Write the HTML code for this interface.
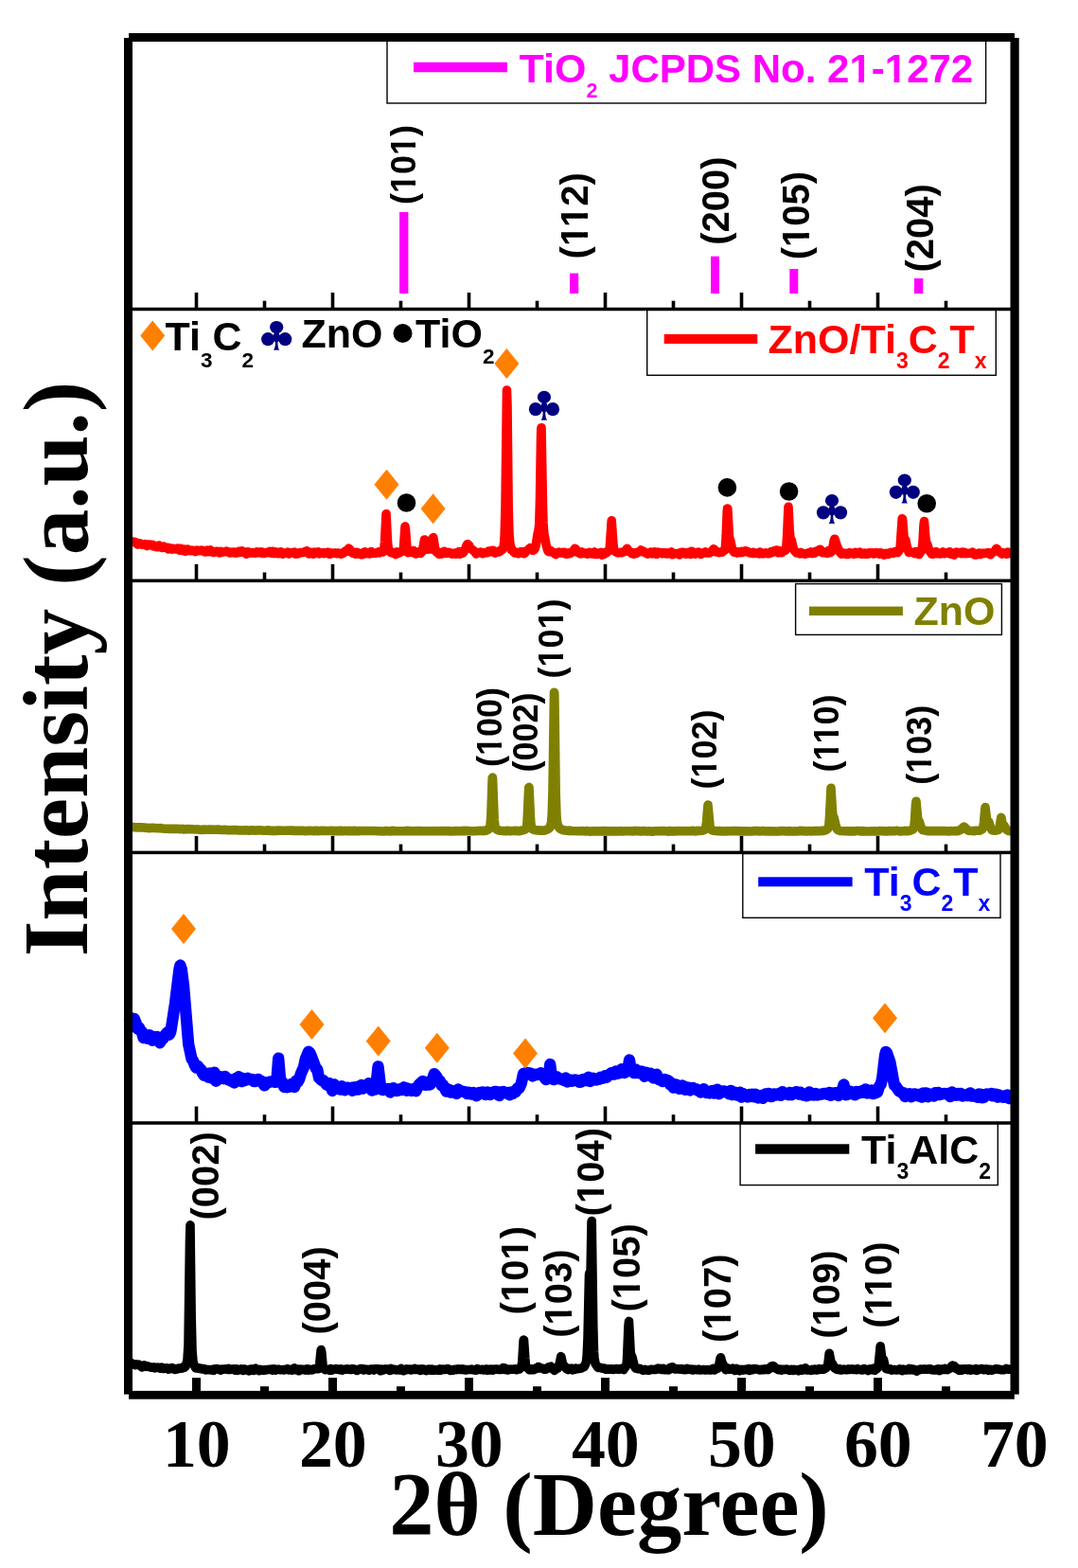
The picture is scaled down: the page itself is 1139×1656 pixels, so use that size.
<!DOCTYPE html>
<html><head><meta charset="utf-8"><title>XRD patterns</title>
<style>html,body{margin:0;padding:0;background:#fff;overflow:hidden;}svg{display:block;}</style>
</head><body>
<svg width="1139" height="1656" viewBox="0 0 1139 1656">
<rect width="1139" height="1656" fill="#fff"/>
<rect x="422.1" y="224.0" width="9.3" height="86.0" fill="#FF00FF"/>
<rect x="602.0" y="288.6" width="9.2" height="21.4" fill="#FF00FF"/>
<rect x="751.0" y="270.7" width="9.0" height="39.3" fill="#FF00FF"/>
<rect x="834.3" y="284.0" width="9.0" height="26.0" fill="#FF00FF"/>
<rect x="966.0" y="294.0" width="9.3" height="16.0" fill="#FF00FF"/>
<text x="439.10" y="174.00" font-family="'Liberation Sans', Arial, sans-serif" font-size="36.00" font-weight="bold" fill="#000" text-anchor="middle" transform="rotate(-90 439.10 174.00)" class="one">(101)</text>
<text x="620.90" y="227.80" font-family="'Liberation Sans', Arial, sans-serif" font-size="40.00" font-weight="bold" fill="#000" text-anchor="middle" transform="rotate(-90 620.90 227.80)" class="one">(112)</text>
<text x="770.20" y="212.00" font-family="'Liberation Sans', Arial, sans-serif" font-size="40.00" font-weight="bold" fill="#000" text-anchor="middle" transform="rotate(-90 770.20 212.00)">(200)</text>
<text x="854.70" y="227.50" font-family="'Liberation Sans', Arial, sans-serif" font-size="40.00" font-weight="bold" fill="#000" text-anchor="middle" transform="rotate(-90 854.70 227.50)" class="one">(105)</text>
<text x="986.30" y="240.90" font-family="'Liberation Sans', Arial, sans-serif" font-size="40.00" font-weight="bold" fill="#000" text-anchor="middle" transform="rotate(-90 986.30 240.90)">(204)</text>
<path d="M137.0 571.9L138.2 572.4L140.5 572.1L141.8 572.7L143.0 572.6L145.5 574.9L146.8 573.8L147.8 573.9L149.0 575.0L151.2 575.2L152.5 574.7L155.0 576.4L156.2 575.0L157.5 575.8L158.8 575.0L159.8 575.6L161.0 575.4L162.2 576.8L163.5 576.3L164.5 577.5L165.8 577.7L167.0 577.6L168.2 576.0L169.5 577.7L170.5 578.1L171.8 578.5L173.0 577.3L174.2 578.3L175.5 578.1L176.5 578.3L177.8 579.9L179.0 578.6L181.5 580.1L182.5 579.2L186.0 580.0L187.5 579.2L189.8 581.3L191.0 579.2L192.2 581.2L194.5 580.2L195.8 582.3L197.0 581.5L198.2 580.1L199.5 581.2L200.5 581.6L201.8 581.1L203.0 581.8L204.2 581.4L206.5 582.6L207.8 581.1L209.0 581.8L210.2 581.4L211.2 581.8L212.8 581.0L215.0 581.8L216.2 582.8L217.2 583.0L218.8 581.2L219.8 581.6L221.0 582.8L222.2 580.8L223.2 581.9L224.5 582.4L225.8 583.5L228.2 582.3L229.5 582.4L230.5 582.5L231.8 583.9L233.0 582.4L235.5 583.1L237.8 582.8L239.0 582.1L240.2 583.0L241.5 582.8L242.8 584.0L245.0 583.1L246.2 583.7L247.5 583.0L248.8 584.0L249.8 583.3L251.0 583.8L252.2 582.4L253.5 583.5L254.5 582.2L255.8 581.8L257.0 583.2L258.2 582.8L259.5 583.8L260.5 585.2L262.0 582.9L265.2 584.0L267.8 583.5L269.0 584.2L270.2 584.1L271.5 583.0L272.5 583.6L273.8 583.8L275.0 582.9L276.2 584.0L277.5 583.2L278.8 584.5L282.2 583.4L283.5 583.7L284.8 582.4L287.0 584.2L288.2 582.3L289.5 584.5L290.5 582.7L291.8 584.5L293.0 583.3L294.2 584.6L295.5 584.0L296.5 582.9L297.8 584.9L299.0 585.2L300.2 584.0L302.5 583.9L303.8 583.3L305.0 585.0L306.2 583.7L307.5 584.0L308.5 583.5L309.8 583.6L311.0 583.1L312.2 585.1L313.5 584.1L314.8 584.8L317.0 583.5L318.2 583.7L320.5 583.5L321.8 582.7L324.2 581.9L325.5 583.1L326.5 585.0L327.8 583.6L329.0 583.3L331.2 585.2L332.5 583.2L334.0 584.0L336.2 582.9L337.5 584.8L338.5 584.3L339.8 584.3L341.0 583.7L342.2 584.6L343.5 583.9L344.5 584.1L345.8 583.4L347.0 583.3L348.2 585.3L349.5 583.9L350.8 584.5L354.2 583.9L355.5 584.7L356.8 584.0L359.0 584.2L360.2 585.1L362.8 584.2L365.0 581.9L366.2 582.4L368.5 579.2L369.0 579.5L372.0 583.7L373.2 584.4L374.5 583.7L375.8 585.3L377.0 583.2L378.2 584.9L379.5 584.7L381.8 585.8L383.0 585.5L384.2 583.4L385.2 583.0L386.5 584.8L387.8 583.6L390.2 584.9L391.5 582.9L392.5 582.6L394.0 584.4L396.2 584.0L397.5 584.1L399.8 582.9L401.0 583.8L403.2 582.2L404.5 582.9L404.8 582.7L405.8 579.7L406.5 572.6L408.0 542.8L409.5 571.9L410.2 579.0L411.0 581.2L413.0 583.6L414.2 583.2L415.5 584.2L416.5 584.2L417.8 585.6L419.0 582.9L420.2 584.7L421.5 583.9L422.5 583.8L423.8 582.4L425.2 582.3L425.8 581.7L426.5 577.5L428.0 556.1L428.5 559.1L429.8 577.3L430.5 582.0L431.2 583.6L432.2 583.4L433.5 582.1L434.8 583.3L437.0 581.5L439.2 584.9L439.5 585.0L442.0 583.0L443.0 583.1L444.2 584.5L445.8 582.8L446.5 581.1L448.5 570.1L448.8 570.1L449.0 570.9L450.0 577.1L450.8 579.7L451.5 580.2L453.8 578.6L455.0 580.0L455.8 577.6L457.2 568.5L457.8 567.6L460.0 581.4L461.0 583.0L462.2 582.6L463.5 585.2L464.5 585.2L465.8 583.8L467.0 584.8L468.0 584.5L469.5 582.3L470.8 584.4L473.0 584.3L474.2 583.4L475.5 584.0L476.5 584.1L477.8 585.1L480.2 584.2L481.5 585.3L482.5 583.8L483.8 583.8L485.0 582.6L486.2 585.2L488.8 584.1L489.8 583.2L491.5 580.1L493.2 575.7L493.8 574.9L494.2 574.7L495.8 576.4L497.0 579.0L501.8 582.6L503.0 584.9L504.2 584.2L507.8 583.1L510.2 584.7L511.5 583.7L515.0 583.8L516.2 582.1L517.5 582.6L518.8 581.7L519.8 582.6L521.0 581.4L523.2 583.9L524.8 582.7L525.8 582.5L527.0 582.9L528.2 582.3L529.5 580.8L531.0 580.3L531.8 579.1L532.8 572.0L533.2 564.1L534.0 534.9L535.5 412.0L536.0 428.4L537.2 537.6L538.0 564.4L538.8 573.4L540.0 579.7L540.2 580.5L541.5 580.7L542.5 582.8L543.8 583.9L545.0 583.2L546.2 583.7L547.5 584.8L548.8 583.3L551.0 582.5L553.5 584.7L554.5 584.2L555.8 582.4L560.2 578.7L560.8 578.9L562.5 581.0L563.0 581.3L563.5 581.2L564.5 580.4L565.2 579.4L566.2 576.0L568.0 564.4L569.2 558.8L569.8 553.2L570.5 527.3L571.5 462.6L571.8 452.9L572.0 451.8L573.5 535.5L574.0 552.0L574.8 563.4L577.0 574.9L578.8 581.7L580.0 582.7L581.0 582.6L582.2 581.8L583.5 583.1L584.8 583.2L587.0 585.6L588.2 584.1L590.5 583.1L592.0 584.0L593.0 584.0L594.2 583.3L595.5 584.2L596.5 583.3L598.0 585.1L600.2 585.0L601.5 583.8L602.8 584.3L604.8 582.9L607.5 579.3L608.5 580.1L609.8 583.5L611.0 583.6L613.2 584.9L614.8 583.0L617.0 584.4L618.2 584.6L619.5 584.1L620.8 585.1L623.0 583.4L624.2 583.7L625.5 585.0L626.5 584.7L627.8 582.9L629.0 585.4L630.2 584.8L631.5 585.3L632.5 584.1L633.8 584.0L635.0 583.4L636.2 586.2L637.5 584.1L638.5 585.2L639.8 583.5L641.0 583.8L642.2 581.9L643.0 582.0L643.5 581.6L644.2 579.3L646.2 549.8L647.8 573.1L648.5 579.7L649.0 581.1L650.2 582.6L653.0 583.9L655.2 583.4L656.8 583.7L659.0 582.5L660.2 582.5L661.2 581.8L662.5 579.3L664.2 582.2L666.2 583.2L667.5 584.7L668.5 583.8L668.8 584.0L669.8 585.3L671.0 583.6L672.2 584.4L674.5 582.9L675.8 582.9L677.2 581.0L680.5 582.5L681.8 583.8L684.2 585.0L685.2 583.8L685.5 583.7L686.5 584.3L687.8 583.0L689.0 584.9L690.2 583.5L691.2 583.0L693.8 585.3L695.0 583.2L697.2 583.8L698.5 583.6L699.8 584.7L701.0 583.8L702.0 583.9L703.5 584.8L704.5 583.9L705.8 584.8L707.0 583.7L709.2 583.0L710.5 585.7L712.0 584.3L713.0 584.6L716.5 584.5L717.8 585.9L719.0 583.6L720.2 583.2L721.5 583.6L722.5 583.4L723.8 585.0L725.0 585.1L726.2 583.7L727.5 583.4L729.8 585.5L731.0 582.2L732.2 584.8L733.5 583.7L734.5 585.1L735.8 583.6L737.0 584.2L738.2 583.2L739.5 583.8L740.8 585.4L745.2 582.9L746.8 584.0L749.5 584.0L750.2 583.8L751.5 582.4L752.5 581.9L754.0 579.7L754.8 580.2L756.2 582.9L758.5 583.0L759.8 583.6L762.2 582.9L763.2 583.1L764.5 581.7L765.8 581.1L766.5 577.0L767.2 565.9L768.2 540.7L768.5 537.1L768.8 537.0L770.5 567.3L771.8 571.2L773.5 579.2L774.5 581.7L775.5 583.2L776.5 583.5L777.8 582.7L779.0 583.9L780.2 582.9L782.5 583.7L783.8 582.2L785.0 583.3L787.5 581.7L788.5 582.0L789.8 582.9L791.0 583.1L792.2 583.9L793.5 583.8L794.5 584.3L795.8 583.4L797.0 584.5L800.5 584.0L801.8 584.7L803.0 583.0L804.2 584.7L807.8 584.6L809.0 583.8L811.5 584.7L813.8 584.2L815.0 582.6L816.2 583.5L817.2 582.9L819.0 581.2L821.0 581.0L822.2 583.9L823.5 583.3L824.5 581.8L825.8 583.8L827.0 582.2L830.0 581.2L830.8 578.6L831.5 568.4L833.0 535.3L834.2 559.8L835.0 568.5L835.2 569.4L836.0 570.0L836.5 571.1L838.0 578.4L839.5 581.6L841.5 583.9L843.8 584.0L845.0 584.8L846.2 583.5L848.5 584.7L849.8 584.7L851.0 585.1L853.2 584.1L854.5 584.5L857.0 582.9L858.2 584.6L859.5 584.1L860.5 584.2L861.8 582.4L863.0 582.8L866.5 580.2L869.0 583.8L870.2 583.8L871.5 583.4L873.8 584.5L875.0 581.6L876.2 583.6L877.5 583.6L878.8 582.3L879.5 580.6L881.2 570.8L881.8 569.3L882.0 569.3L884.5 577.2L887.2 582.8L889.2 585.3L890.8 583.9L893.0 584.4L894.2 585.3L895.5 584.4L896.5 585.4L897.8 583.6L899.0 584.2L900.2 584.2L901.5 585.0L902.5 585.2L903.8 583.3L905.0 583.7L906.2 584.6L908.5 583.2L910.0 585.2L912.2 584.8L913.5 584.1L914.5 585.1L915.8 584.3L917.0 585.3L918.2 583.7L919.5 583.8L920.5 584.5L921.8 583.9L923.0 585.0L924.2 584.6L925.5 583.7L926.5 584.4L927.8 584.1L929.0 585.1L930.2 583.9L931.5 584.1L932.8 585.4L934.0 586.1L935.0 585.9L936.2 584.4L937.2 584.5L938.8 585.3L939.8 584.2L941.0 583.4L942.2 584.3L943.5 584.4L945.8 582.6L947.0 582.5L948.2 583.8L950.5 580.8L951.2 577.3L953.2 547.7L953.5 547.9L953.8 550.3L955.2 569.2L955.5 569.9L956.5 569.6L956.8 570.1L958.2 576.9L960.2 583.4L962.8 583.1L965.0 583.7L966.2 584.4L967.5 582.6L969.8 583.4L971.0 585.5L973.8 581.3L974.8 575.7L976.0 554.8L976.5 550.5L977.8 567.2L978.5 572.5L980.0 575.3L981.8 581.5L982.2 582.2L983.0 582.5L984.2 585.1L985.5 585.2L986.8 584.5L987.8 584.7L989.0 582.6L990.2 584.7L991.5 584.2L993.8 584.9L996.2 583.1L997.5 584.6L998.8 583.8L999.8 584.1L1002.2 584.1L1003.2 582.8L1003.5 582.8L1004.5 585.2L1004.8 585.3L1005.8 584.7L1008.2 586.0L1010.5 583.1L1011.8 583.7L1013.0 583.5L1015.2 584.5L1016.5 583.0L1017.8 584.6L1019.0 583.2L1020.2 584.7L1026.2 583.9L1027.5 583.2L1029.8 585.9L1031.0 586.0L1033.2 585.1L1034.5 584.0L1035.8 585.5L1037.0 584.4L1039.5 584.2L1040.5 584.4L1041.8 584.0L1043.0 584.3L1044.2 583.5L1045.5 584.1L1046.5 585.8L1047.8 583.9L1050.2 582.9L1051.2 581.9L1052.8 579.3L1053.8 580.2L1055.0 582.4L1057.2 583.7L1058.5 585.1L1059.8 583.7L1061.0 584.3L1062.2 584.0L1063.5 585.3L1064.8 583.0L1065.8 583.8L1067.0 584.0L1068.0 584.8" fill="none" stroke="#FF0000" stroke-width="9.6" stroke-linejoin="round" stroke-linecap="round"/>
<path d="M408.5 495.7L421.5 511.7L408.5 527.7L395.5 511.7Z" fill="#FF8000"/>
<circle cx="429.5" cy="531.0" r="9.8" fill="#000"/>
<path d="M457.6 521.3L470.6 537.3L457.6 553.3L444.6 537.3Z" fill="#FF8000"/>
<path d="M535.4 368.0L548.4 384.0L535.4 400.0L522.4 384.0Z" fill="#FF8000"/>
<g fill="#000080">
<ellipse cx="574.95" cy="419.45" rx="7.10" ry="6.60"/>
<ellipse cx="565.85" cy="432.15" rx="7.00" ry="7.15"/>
<ellipse cx="584.05" cy="432.15" rx="7.00" ry="7.15"/>
<path d="M573.15 424.35 L576.75 424.35 L578.55 428.55 L578.55 433.35 L576.25 435.15 L573.65 435.15 L571.35 433.35 L571.35 428.55 Z"/>
<path d="M573.65 432.35 C573.75 438.35 573.45 441.85 571.55 443.80 L578.25 443.80 C576.45 441.85 576.15 438.35 576.25 432.35 Z"/>
</g>
<circle cx="768.4" cy="514.9" r="9.8" fill="#000"/>
<circle cx="833.6" cy="519.0" r="9.8" fill="#000"/>
<g fill="#000080">
<ellipse cx="879.00" cy="528.70" rx="7.10" ry="6.60"/>
<ellipse cx="869.90" cy="541.40" rx="7.00" ry="7.15"/>
<ellipse cx="888.10" cy="541.40" rx="7.00" ry="7.15"/>
<path d="M877.20 533.60 L880.80 533.60 L882.60 537.80 L882.60 542.60 L880.30 544.40 L877.70 544.40 L875.40 542.60 L875.40 537.80 Z"/>
<path d="M877.70 541.60 C877.80 547.60 877.50 551.10 875.60 553.05 L882.30 553.05 C880.50 551.10 880.20 547.60 880.30 541.60 Z"/>
</g>
<g fill="#000080">
<ellipse cx="955.80" cy="507.10" rx="7.10" ry="6.60"/>
<ellipse cx="946.70" cy="519.80" rx="7.00" ry="7.15"/>
<ellipse cx="964.90" cy="519.80" rx="7.00" ry="7.15"/>
<path d="M954.00 512.00 L957.60 512.00 L959.40 516.20 L959.40 521.00 L957.10 522.80 L954.50 522.80 L952.20 521.00 L952.20 516.20 Z"/>
<path d="M954.50 520.00 C954.60 526.00 954.30 529.50 952.40 531.45 L959.10 531.45 C957.30 529.50 957.00 526.00 957.10 520.00 Z"/>
</g>
<circle cx="979.2" cy="531.7" r="9.8" fill="#000"/>
<path d="M161.2 338.5L174.2 354.5L161.2 370.5L148.2 354.5Z" fill="#FF8000"/>
<text x="174.50" y="370.00" font-family="'Liberation Sans', Arial, sans-serif" font-weight="bold" fill="#000"><tspan font-size="43.0" dy="0.00">Ti</tspan><tspan font-size="22.5" dy="17.50">3</tspan><tspan font-size="43.0" dy="-17.50">C</tspan><tspan font-size="22.5" dy="17.50">2</tspan></text>
<g fill="#000080">
<ellipse cx="292.20" cy="345.50" rx="7.10" ry="6.60"/>
<ellipse cx="283.10" cy="358.20" rx="7.00" ry="7.15"/>
<ellipse cx="301.30" cy="358.20" rx="7.00" ry="7.15"/>
<path d="M290.40 350.40 L294.00 350.40 L295.80 354.60 L295.80 359.40 L293.50 361.20 L290.90 361.20 L288.60 359.40 L288.60 354.60 Z"/>
<path d="M290.90 358.40 C291.00 364.40 290.70 367.90 288.80 369.85 L295.50 369.85 C293.70 367.90 293.40 364.40 293.50 358.40 Z"/>
</g>
<text x="318.50" y="367.00" font-family="'Liberation Sans', Arial, sans-serif" font-size="43.00" font-weight="bold" fill="#000" text-anchor="start">ZnO</text>
<circle cx="425.5" cy="352.0" r="10.0" fill="#000"/>
<text x="439.00" y="367.00" font-family="'Liberation Sans', Arial, sans-serif" font-weight="bold" fill="#000"><tspan font-size="43.0" dy="0.00">TiO</tspan><tspan font-size="22.5" dy="17.00">2</tspan></text>
<path d="M137.0 873.4L138.5 873.6L140.0 873.3L141.5 873.7L146.0 873.9L149.0 873.7L158.0 874.6L161.0 874.3L167.0 874.8L170.0 874.6L171.5 875.0L180.5 875.4L186.5 875.2L191.0 875.6L192.5 875.4L194.0 875.9L198.5 875.5L207.5 876.0L209.0 875.9L213.5 876.5L215.0 876.0L219.5 876.3L221.0 876.1L228.5 876.3L230.0 876.1L234.5 876.5L237.5 876.3L240.5 876.7L249.5 876.5L252.5 877.0L260.0 876.8L263.0 877.3L266.0 876.8L270.5 877.1L273.5 876.7L279.5 877.2L284.0 876.9L287.0 877.4L291.5 877.2L293.0 877.4L294.5 877.0L299.0 877.3L308.0 877.1L311.0 877.4L312.5 877.2L315.5 877.4L320.0 877.2L323.0 877.7L326.0 877.3L332.0 877.6L333.5 877.2L335.0 877.6L341.0 877.3L347.0 877.5L350.0 877.2L351.5 877.6L360.5 877.4L363.5 877.7L365.0 877.3L366.5 877.7L369.5 877.4L371.0 877.7L374.0 877.4L378.5 877.8L380.0 877.5L395.0 877.5L405.5 878.0L407.0 877.5L413.0 877.9L414.5 877.4L419.0 877.8L428.0 877.8L429.5 877.3L431.0 877.8L432.5 877.5L434.0 877.8L443.0 877.5L447.5 877.8L474.5 877.6L476.0 878.0L482.0 877.6L485.0 877.8L491.0 877.4L492.5 877.7L494.0 877.3L495.5 877.7L501.5 877.7L507.5 877.2L510.5 877.6L512.0 877.1L513.5 877.1L516.5 875.6L517.5 873.7L518.0 871.4L518.8 862.4L520.0 826.4L520.2 821.6L520.5 821.1L522.2 866.0L523.0 872.8L523.5 874.4L524.2 875.5L525.5 876.4L528.5 877.3L534.5 877.8L536.0 877.2L539.0 877.7L545.0 877.3L548.0 877.8L553.5 876.6L555.5 875.5L556.5 872.5L557.0 868.4L558.5 835.6L558.8 831.7L559.0 831.4L560.5 864.5L561.0 870.6L561.8 874.3L562.8 875.7L565.0 876.6L567.5 877.0L569.0 876.8L570.5 877.3L572.0 877.0L575.0 877.1L576.5 876.8L579.8 875.2L580.8 874.2L581.5 872.7L582.5 868.8L583.2 860.5L584.0 835.5L585.5 731.2L585.8 732.4L586.0 744.7L587.2 838.0L588.0 861.6L588.5 867.7L589.5 872.0L591.5 875.0L594.0 876.4L600.5 877.5L602.0 877.1L603.5 877.5L612.5 877.8L615.5 877.6L618.5 878.0L620.0 877.5L623.0 878.1L627.5 877.7L633.5 877.9L638.0 877.6L644.0 877.9L654.5 877.9L656.0 877.6L657.5 878.0L660.5 877.7L666.5 877.7L668.0 877.9L671.0 877.4L672.5 877.7L674.0 877.5L677.0 877.9L680.0 877.6L683.0 878.0L686.0 877.8L689.0 878.1L692.0 877.8L701.0 877.6L705.5 878.1L707.0 877.6L713.0 877.9L717.5 877.5L720.5 877.8L723.5 877.6L728.0 877.8L732.5 877.4L735.5 877.9L737.0 877.3L738.8 877.5L741.2 877.3L744.5 876.3L745.2 875.3L745.8 873.7L746.5 868.0L748.0 850.1L750.2 873.7L751.2 876.0L752.5 876.8L754.2 877.3L758.0 877.7L759.5 877.6L765.5 877.9L777.5 877.5L782.0 877.9L788.0 877.7L794.0 878.0L797.0 877.6L801.5 877.6L803.0 878.0L806.0 877.6L809.0 878.0L812.0 877.7L822.5 878.0L825.5 877.5L831.5 877.9L834.5 877.6L836.0 878.0L842.0 877.9L845.0 877.4L852.5 877.9L855.5 877.5L857.0 878.0L860.0 877.5L866.0 877.6L871.5 877.1L872.8 876.6L874.5 875.4L875.2 873.9L875.8 871.6L876.5 862.9L878.0 832.3L879.5 856.9L880.0 861.1L881.2 863.8L883.8 874.5L885.0 876.3L886.8 877.1L888.5 877.5L897.5 877.9L902.0 877.9L905.0 877.5L908.0 877.5L909.5 878.0L911.0 877.6L915.5 878.0L924.5 877.7L927.5 878.0L929.0 877.5L935.0 877.9L938.0 877.9L939.5 877.5L941.0 877.9L942.5 877.6L945.5 877.8L947.0 877.3L951.5 877.9L956.0 877.4L959.0 877.7L962.2 877.0L964.8 875.8L965.8 873.2L966.5 866.6L967.5 849.6L968.0 846.2L969.8 865.7L970.2 866.8L970.8 866.9L971.2 867.4L973.8 875.5L975.0 876.6L980.0 877.6L998.0 877.5L1002.5 878.0L1004.0 877.5L1007.0 877.8L1010.0 877.5L1011.5 877.8L1014.8 876.5L1017.8 873.6L1018.5 873.2L1019.5 873.8L1022.2 876.6L1023.8 877.3L1029.5 877.6L1031.0 877.2L1034.0 877.3L1035.5 877.0L1037.8 875.8L1038.8 873.8L1039.5 868.8L1041.0 852.6L1042.8 866.9L1043.2 868.0L1044.2 867.7L1044.8 868.1L1046.8 874.4L1048.0 876.5L1049.2 877.0L1051.2 877.2L1054.5 876.6L1055.2 876.0L1056.2 872.9L1057.8 863.4L1058.0 863.5L1059.2 870.7L1059.8 872.0L1061.0 872.0L1061.2 872.2L1063.0 875.6L1064.5 876.9L1065.5 877.5L1068.0 877.8" fill="none" stroke="#808000" stroke-width="9.6" stroke-linejoin="round" stroke-linecap="round"/>
<text x="529.70" y="767.90" font-family="'Liberation Sans', Arial, sans-serif" font-size="36.00" font-weight="bold" fill="#000" text-anchor="middle" transform="rotate(-90 529.70 767.90)" class="one">(100)</text>
<text x="567.60" y="773.50" font-family="'Liberation Sans', Arial, sans-serif" font-size="36.00" font-weight="bold" fill="#000" text-anchor="middle" transform="rotate(-90 567.60 773.50)">(002)</text>
<text x="595.10" y="674.40" font-family="'Liberation Sans', Arial, sans-serif" font-size="36.00" font-weight="bold" fill="#000" text-anchor="middle" transform="rotate(-90 595.10 674.40)" class="one">(101)</text>
<text x="757.20" y="791.40" font-family="'Liberation Sans', Arial, sans-serif" font-size="36.00" font-weight="bold" fill="#000" text-anchor="middle" transform="rotate(-90 757.20 791.40)" class="one">(102)</text>
<text x="885.80" y="774.50" font-family="'Liberation Sans', Arial, sans-serif" font-size="36.00" font-weight="bold" fill="#000" text-anchor="middle" transform="rotate(-90 885.80 774.50)" class="one">(110)</text>
<text x="984.20" y="786.80" font-family="'Liberation Sans', Arial, sans-serif" font-size="36.00" font-weight="bold" fill="#000" text-anchor="middle" transform="rotate(-90 984.20 786.80)" class="one">(103)</text>
<path d="M137.0 1077.5L138.5 1075.2L140.2 1079.5L141.8 1075.9L143.5 1079.9L145.0 1086.2L146.5 1084.8L146.8 1085.0L148.2 1088.3L149.8 1089.5L151.5 1096.0L153.0 1095.4L154.5 1093.1L156.2 1096.9L157.8 1093.1L159.5 1095.2L161.0 1098.8L162.5 1094.8L164.2 1097.2L165.8 1095.0L169.0 1101.3L170.5 1096.1L172.2 1097.2L173.8 1094.0L177.0 1090.1L178.5 1092.7L179.0 1092.5L180.2 1090.1L180.8 1087.0L185.0 1059.6L189.5 1023.1L190.5 1019.5L191.8 1023.6L194.0 1040.6L199.2 1102.9L202.5 1118.3L204.2 1120.8L205.8 1124.9L207.2 1127.5L209.0 1125.9L210.5 1128.2L212.2 1129.3L213.8 1133.0L215.5 1135.7L218.5 1134.0L220.2 1137.6L221.8 1133.3L223.5 1138.5L226.5 1132.6L228.2 1141.8L229.8 1140.5L231.5 1136.6L233.0 1138.8L234.5 1138.4L236.2 1139.1L237.8 1136.9L241.0 1140.4L242.5 1140.1L244.2 1141.7L245.8 1140.1L247.5 1143.5L249.0 1139.0L250.5 1140.5L252.2 1137.2L253.8 1138.2L255.5 1142.2L257.0 1138.9L258.5 1141.1L260.2 1140.3L261.8 1138.9L263.5 1140.0L266.5 1140.0L268.2 1142.0L269.8 1142.0L271.5 1140.2L273.0 1139.9L274.5 1141.8L276.2 1141.7L279.5 1146.4L281.0 1144.0L282.5 1143.1L284.2 1143.0L286.0 1142.3L289.0 1142.3L290.8 1142.9L291.8 1141.9L292.5 1139.2L294.2 1117.6L296.0 1138.8L297.0 1143.5L298.5 1143.3L300.2 1148.0L301.8 1146.5L303.5 1148.3L305.0 1146.7L306.5 1147.5L308.2 1144.6L309.8 1145.6L311.2 1148.0L313.0 1141.4L314.5 1142.7L316.2 1139.9L317.8 1134.3L321.0 1127.1L322.8 1118.3L326.0 1110.7L327.0 1111.5L328.5 1114.3L333.8 1128.5L335.2 1129.3L337.0 1138.2L340.0 1141.2L341.8 1141.2L345.0 1145.4L346.5 1146.3L348.2 1144.2L351.2 1152.0L353.0 1145.3L354.8 1149.8L357.8 1148.5L359.5 1150.7L361.0 1147.1L364.2 1151.3L366.0 1148.9L367.5 1148.7L369.0 1149.6L370.5 1148.8L372.2 1151.8L373.8 1148.3L375.5 1150.8L377.0 1147.8L378.8 1150.6L380.2 1149.5L381.8 1145.9L383.5 1149.6L385.0 1147.8L388.0 1148.1L389.8 1144.1L391.5 1147.1L393.0 1151.6L394.5 1149.6L396.2 1150.7L397.5 1145.2L399.5 1126.3L401.8 1145.6L402.8 1150.2L404.2 1151.1L405.8 1150.2L409.0 1150.4L410.5 1149.8L412.2 1153.6L413.8 1150.9L415.5 1149.1L419.0 1152.0L420.2 1151.9L423.2 1150.0L425.0 1151.0L426.8 1148.4L428.2 1149.0L429.8 1151.9L431.5 1149.9L434.8 1151.9L437.8 1149.6L439.5 1152.3L442.5 1145.7L446.5 1141.9L447.5 1142.0L449.5 1145.8L450.5 1145.8L452.2 1143.0L453.8 1145.6L454.5 1145.4L456.0 1142.5L458.8 1134.1L461.0 1136.6L463.5 1141.0L465.0 1141.8L466.5 1146.4L468.2 1145.9L471.5 1152.6L473.0 1150.2L474.5 1150.9L476.2 1153.7L478.0 1152.0L479.5 1152.5L482.5 1155.0L484.2 1150.4L485.8 1152.7L489.0 1152.7L492.2 1153.5L493.8 1155.2L495.5 1153.6L497.0 1155.1L498.5 1155.6L500.2 1153.9L503.5 1157.4L506.5 1154.0L508.2 1154.8L509.8 1153.5L511.5 1155.3L513.0 1156.1L514.8 1153.5L516.2 1154.4L517.8 1156.2L519.5 1153.8L521.0 1154.7L522.8 1152.8L525.8 1153.4L527.5 1157.1L529.0 1153.4L532.0 1153.0L535.5 1154.6L537.0 1153.8L538.5 1156.3L540.2 1153.5L541.8 1155.0L543.5 1153.0L545.0 1153.1L546.5 1149.7L548.0 1149.6L548.8 1148.8L550.8 1144.2L553.0 1134.0L554.5 1135.5L556.2 1133.0L560.0 1133.3L561.0 1133.9L562.8 1136.5L564.2 1135.0L565.8 1134.6L567.5 1135.0L571.2 1133.3L572.5 1134.3L577.0 1140.2L578.5 1136.7L579.2 1137.1L579.8 1136.2L581.2 1124.0L582.8 1135.9L585.0 1140.2L586.5 1137.4L588.2 1137.1L591.5 1139.5L594.5 1140.1L596.2 1141.3L597.8 1138.5L599.5 1142.6L601.0 1140.1L602.5 1141.4L604.2 1141.8L605.8 1140.8L607.5 1140.4L609.0 1140.8L612.2 1142.9L613.8 1142.7L615.5 1140.1L618.5 1139.7L620.2 1141.4L621.8 1137.6L623.5 1142.0L625.0 1139.3L626.5 1138.6L629.8 1140.5L631.5 1139.1L633.0 1139.7L634.5 1137.9L636.2 1138.9L637.8 1138.5L639.5 1136.1L641.0 1137.9L642.5 1135.7L644.2 1134.9L645.8 1133.1L647.5 1133.6L649.0 1134.7L650.5 1131.4L652.2 1133.8L655.2 1133.0L657.0 1129.1L658.5 1131.9L660.2 1133.0L661.8 1130.8L663.2 1130.7L665.0 1119.5L666.8 1131.4L668.2 1130.7L669.8 1133.1L671.5 1129.4L673.0 1133.1L674.5 1132.0L676.2 1133.6L677.8 1131.5L679.2 1132.1L681.0 1136.8L682.8 1132.7L685.8 1134.2L687.2 1133.6L689.0 1137.3L690.5 1138.5L692.2 1135.5L693.8 1134.7L695.5 1139.8L698.5 1140.8L700.2 1142.1L701.8 1140.0L703.5 1141.8L705.0 1140.8L706.5 1141.5L708.2 1145.7L709.8 1144.0L711.5 1148.7L713.0 1146.0L714.5 1145.4L717.8 1149.9L721.0 1146.3L724.2 1150.9L726.0 1148.5L727.5 1148.6L729.0 1151.5L732.2 1149.0L733.8 1150.2L735.5 1150.1L737.0 1151.8L738.5 1151.8L740.2 1153.6L741.8 1153.2L743.5 1150.1L745.0 1153.1L746.5 1154.0L748.2 1153.6L749.8 1154.5L751.5 1152.4L753.0 1151.9L754.5 1154.7L756.2 1152.0L757.8 1150.6L759.5 1155.3L761.0 1153.0L762.5 1153.7L764.2 1152.3L767.5 1153.0L770.5 1155.4L772.2 1151.8L773.8 1156.2L775.5 1153.6L777.0 1153.9L778.8 1156.6L780.2 1155.6L781.8 1153.7L783.5 1158.6L785.0 1154.9L786.5 1156.5L788.2 1156.7L789.8 1158.5L791.5 1156.0L793.0 1158.1L794.5 1155.7L796.2 1158.3L798.0 1155.6L799.5 1156.4L801.0 1159.5L802.5 1157.3L804.0 1156.9L805.8 1159.9L809.0 1155.4L810.5 1157.5L812.2 1154.8L813.8 1158.0L815.2 1158.2L817.0 1155.5L818.5 1155.3L820.2 1156.5L821.8 1156.2L823.5 1154.7L825.0 1156.9L826.8 1153.1L828.2 1155.2L831.2 1155.3L833.0 1156.1L834.5 1153.9L836.2 1156.3L841.0 1153.2L842.5 1153.4L844.2 1155.7L845.8 1153.7L849.0 1156.6L850.5 1156.5L852.2 1157.2L853.8 1154.5L855.2 1153.4L857.0 1156.4L858.5 1155.3L860.2 1156.4L861.8 1154.8L863.5 1156.5L871.5 1154.9L873.0 1154.9L874.5 1155.9L876.2 1153.8L877.8 1156.9L879.5 1154.4L881.0 1155.9L882.5 1154.3L884.0 1153.9L885.8 1157.1L887.5 1153.5L890.0 1150.8L891.5 1145.5L893.8 1156.3L895.5 1154.2L897.0 1155.3L898.5 1152.6L900.2 1154.5L901.8 1154.9L903.2 1156.4L905.0 1152.8L906.8 1154.7L908.2 1154.2L909.8 1152.3L911.5 1153.7L913.0 1153.3L914.5 1150.3L916.2 1154.5L917.8 1154.3L921.0 1151.3L922.5 1155.2L924.2 1153.5L925.8 1154.2L927.2 1153.3L929.0 1147.3L930.8 1144.8L932.2 1138.6L935.0 1114.8L936.0 1110.9L937.0 1111.8L940.5 1122.0L945.0 1146.5L946.5 1147.1L949.8 1152.2L951.5 1152.9L953.0 1154.3L954.5 1154.1L956.2 1158.0L961.0 1155.2L962.8 1158.4L964.2 1155.9L965.8 1155.3L969.0 1156.0L970.5 1157.6L972.2 1155.7L973.8 1158.7L975.5 1154.5L977.0 1156.7L978.5 1154.3L980.2 1158.3L982.0 1155.3L986.5 1157.6L988.2 1154.2L989.8 1155.3L991.5 1153.9L993.0 1156.1L997.8 1154.9L999.5 1155.4L1001.0 1154.9L1004.2 1158.2L1005.8 1153.4L1007.5 1156.0L1009.0 1155.6L1010.5 1156.9L1012.2 1154.9L1013.8 1156.1L1015.2 1154.9L1017.0 1157.5L1020.0 1156.3L1021.8 1157.1L1023.5 1156.1L1025.0 1154.3L1026.8 1157.5L1029.8 1156.6L1031.5 1158.3L1033.0 1158.7L1034.5 1155.5L1036.0 1155.7L1038.0 1159.3L1039.5 1159.0L1041.0 1156.0L1042.5 1155.4L1045.8 1156.5L1047.5 1155.0L1049.0 1157.4L1050.5 1155.6L1052.2 1155.7L1053.8 1158.7L1055.5 1156.5L1058.5 1158.5L1060.0 1158.8L1061.8 1157.2L1063.5 1157.7L1065.0 1156.5L1066.5 1160.2L1068.0 1159.1" fill="none" stroke="#0000FF" stroke-width="12.3" stroke-linejoin="round" stroke-linecap="round"/>
<path d="M194.0 964.9L207.0 980.9L194.0 996.9L181.0 980.9Z" fill="#FF8000"/>
<path d="M329.5 1066.0L342.5 1082.0L329.5 1098.0L316.5 1082.0Z" fill="#FF8000"/>
<path d="M399.7 1083.5L412.7 1099.5L399.7 1115.5L386.7 1099.5Z" fill="#FF8000"/>
<path d="M461.8 1090.8L474.8 1106.8L461.8 1122.8L448.8 1106.8Z" fill="#FF8000"/>
<path d="M555.0 1096.4L568.0 1112.4L555.0 1128.4L542.0 1112.4Z" fill="#FF8000"/>
<path d="M935.0 1059.2L948.0 1075.2L935.0 1091.2L922.0 1075.2Z" fill="#FF8000"/>
<path d="M137.0 1438.3L139.2 1440.1L140.8 1440.6L141.8 1441.5L143.0 1441.6L144.2 1440.9L145.5 1441.4L146.5 1441.1L147.8 1442.2L149.0 1442.4L150.2 1444.0L152.5 1441.9L155.0 1443.4L156.2 1442.9L159.8 1444.2L162.2 1443.9L163.5 1444.8L164.5 1444.3L165.8 1444.4L167.0 1444.0L169.5 1445.2L170.8 1444.2L173.0 1445.5L174.2 1445.0L175.5 1445.3L176.5 1444.8L178.0 1446.1L180.0 1445.6L181.5 1444.5L182.5 1444.9L183.8 1446.0L185.0 1446.4L186.2 1445.6L187.5 1446.0L188.8 1445.0L192.2 1445.1L193.5 1443.8L194.8 1444.4L196.0 1443.2L197.5 1438.6L198.0 1436.0L199.0 1419.7L200.5 1309.8L201.0 1293.9L202.2 1391.6L203.0 1426.1L204.0 1438.2L204.8 1440.8L206.8 1444.9L209.0 1444.6L210.2 1445.4L211.5 1445.0L213.8 1446.0L215.0 1445.6L216.0 1445.7L217.5 1446.9L218.8 1446.6L222.0 1446.5L223.5 1447.0L224.5 1446.3L225.8 1447.2L227.0 1445.8L228.2 1446.1L229.5 1445.6L233.0 1447.1L234.2 1446.0L235.5 1446.4L239.0 1445.7L240.2 1446.4L241.5 1445.5L242.8 1446.5L247.2 1445.7L248.5 1447.3L249.8 1445.8L251.0 1447.3L254.5 1445.8L255.8 1447.0L257.0 1447.4L258.2 1446.0L260.5 1447.0L261.8 1446.7L263.0 1447.6L264.2 1446.2L265.5 1446.7L266.5 1445.9L267.8 1447.5L269.0 1446.1L270.2 1445.3L271.2 1446.3L272.5 1446.4L273.8 1447.5L275.0 1446.3L278.5 1447.3L279.8 1446.5L281.0 1447.0L283.5 1446.3L285.8 1446.5L287.0 1446.0L288.2 1447.1L289.5 1445.8L290.8 1447.1L294.2 1446.1L296.8 1446.8L299.0 1446.6L300.2 1447.0L301.5 1446.2L302.8 1446.5L303.8 1445.7L305.0 1446.9L307.2 1446.3L308.8 1447.1L309.8 1446.9L311.0 1444.9L312.2 1446.5L313.5 1445.8L315.8 1447.8L317.0 1446.2L318.2 1446.5L319.5 1446.3L323.0 1447.1L324.2 1445.9L325.5 1447.2L326.8 1446.0L329.0 1447.0L330.2 1446.7L331.5 1445.8L336.2 1445.7L337.0 1443.6L337.8 1439.6L339.2 1425.6L339.8 1428.2L341.0 1441.5L341.8 1444.6L343.5 1446.6L344.5 1446.3L347.0 1446.6L348.2 1447.2L349.5 1445.5L350.8 1447.0L351.8 1446.3L353.0 1446.3L355.2 1445.5L356.5 1446.2L357.8 1446.1L359.0 1446.7L360.2 1445.7L361.5 1447.2L362.8 1446.6L365.0 1446.1L367.5 1445.9L370.0 1446.5L371.0 1446.4L372.2 1445.7L373.5 1446.3L374.8 1446.1L377.0 1447.5L380.8 1445.6L383.0 1445.6L384.2 1446.9L385.5 1446.1L386.5 1446.5L387.8 1446.2L390.2 1447.2L391.5 1446.1L393.8 1446.1L395.0 1447.0L396.2 1445.9L399.8 1445.7L402.2 1447.8L403.5 1446.0L404.8 1447.0L407.0 1445.9L408.2 1446.3L410.5 1446.1L411.8 1447.5L413.0 1445.4L414.2 1446.7L416.8 1446.2L419.0 1447.0L420.2 1446.6L422.5 1446.9L423.8 1445.4L425.0 1447.3L426.2 1447.7L427.5 1447.0L428.5 1447.0L429.8 1445.8L431.0 1446.4L432.2 1446.0L433.2 1446.2L434.5 1446.9L435.8 1446.1L437.0 1446.4L438.2 1445.5L439.5 1446.4L440.5 1446.5L443.0 1446.1L444.2 1447.5L445.5 1445.8L447.8 1446.0L449.0 1447.1L450.2 1447.6L451.5 1446.6L452.8 1446.1L453.8 1446.2L455.0 1447.1L456.2 1446.0L457.5 1447.3L458.5 1447.3L459.8 1446.6L463.2 1447.3L464.5 1446.0L465.8 1447.1L467.0 1446.3L468.2 1446.1L469.5 1446.5L473.0 1445.6L474.2 1446.0L475.5 1447.3L476.5 1447.5L477.8 1446.9L479.0 1447.1L480.2 1446.2L482.5 1446.6L484.0 1445.9L485.0 1445.9L486.2 1446.5L488.5 1445.9L489.8 1446.7L491.0 1446.3L492.2 1447.0L493.5 1446.5L496.0 1446.5L498.2 1446.1L500.5 1446.8L503.0 1447.2L504.2 1445.6L505.5 1446.3L507.8 1446.6L510.2 1446.2L511.5 1446.9L513.8 1445.9L515.0 1447.2L516.2 1447.0L517.5 1446.2L518.8 1446.8L519.8 1446.1L521.0 1447.1L522.2 1446.3L523.5 1446.0L525.8 1446.0L527.0 1446.5L529.5 1446.4L530.5 1446.2L531.8 1444.5L533.0 1446.5L534.2 1445.4L535.5 1446.6L536.5 1447.0L539.0 1446.1L541.2 1446.2L545.0 1445.7L546.2 1446.7L547.5 1445.9L548.8 1446.0L550.5 1444.2L551.0 1443.0L551.8 1437.9L553.0 1417.9L553.2 1415.3L553.5 1415.1L554.8 1434.6L555.5 1441.7L556.2 1444.0L558.2 1445.2L559.2 1446.5L559.5 1446.7L560.8 1445.8L561.8 1445.9L563.0 1446.8L564.0 1446.6L565.2 1446.0L566.5 1444.8L567.8 1445.1L569.0 1443.5L571.2 1445.0L573.8 1445.3L575.0 1446.3L576.2 1446.2L577.5 1445.7L579.8 1443.9L582.0 1443.2L583.5 1445.4L585.8 1447.3L588.2 1445.4L589.2 1445.0L589.8 1444.2L591.2 1440.2L592.8 1432.6L594.5 1440.5L598.2 1445.2L599.8 1446.3L600.2 1446.5L601.5 1445.3L602.5 1445.7L603.8 1445.2L605.0 1446.8L607.2 1446.3L608.5 1445.2L609.8 1445.7L614.5 1445.0L615.8 1444.0L617.0 1443.8L618.5 1441.2L619.5 1437.8L620.2 1431.2L621.0 1413.6L622.5 1346.4L622.8 1344.4L623.5 1355.0L624.0 1347.8L625.0 1291.1L625.2 1289.5L626.8 1402.3L627.5 1427.5L628.0 1433.9L629.0 1440.1L631.5 1444.0L632.5 1444.5L633.8 1444.0L636.2 1445.1L638.5 1445.1L639.8 1446.2L641.0 1445.8L642.2 1446.1L643.5 1445.8L644.5 1446.2L645.8 1445.7L648.2 1446.4L651.8 1445.5L653.0 1446.1L654.2 1446.1L656.5 1445.3L659.0 1446.5L660.2 1444.3L661.2 1443.3L662.0 1440.7L662.5 1436.4L664.0 1400.0L664.5 1395.4L666.2 1428.0L666.8 1430.7L668.0 1433.4L669.8 1441.2L670.8 1443.9L672.0 1445.2L674.5 1445.8L675.8 1445.3L679.5 1447.2L681.8 1446.4L683.0 1446.9L685.5 1447.2L687.8 1446.3L692.5 1446.5L695.0 1445.2L696.2 1446.0L697.5 1445.4L698.8 1446.4L699.8 1446.4L701.0 1445.4L702.2 1446.7L703.5 1446.7L704.5 1446.3L706.0 1447.0L707.0 1446.7L708.2 1444.2L709.2 1444.3L710.5 1443.8L713.0 1446.0L714.2 1445.6L717.8 1445.9L719.0 1446.3L720.2 1445.6L721.5 1445.9L722.8 1446.7L723.8 1446.4L725.0 1446.6L726.2 1445.4L727.5 1446.0L729.8 1446.4L731.0 1446.1L732.2 1446.9L733.5 1446.4L735.8 1446.5L737.0 1446.8L738.2 1446.2L739.5 1447.0L743.0 1446.5L745.5 1447.0L747.8 1446.6L749.0 1446.9L750.2 1446.5L751.5 1447.0L753.8 1445.2L755.0 1446.9L757.2 1445.3L758.2 1445.2L758.8 1444.8L759.5 1442.6L761.0 1434.8L761.5 1433.7L762.8 1438.8L767.0 1446.6L768.2 1445.4L769.2 1445.0L770.8 1446.3L773.0 1446.1L774.2 1445.3L775.5 1446.7L776.5 1447.3L777.8 1445.4L779.0 1447.1L780.2 1446.2L781.5 1447.6L782.5 1446.8L783.8 1446.4L785.0 1447.1L787.2 1446.2L788.8 1446.8L791.0 1445.5L792.2 1447.5L793.5 1446.2L794.5 1446.1L795.8 1446.6L797.0 1445.6L800.8 1446.2L803.0 1447.0L804.2 1446.2L806.5 1446.7L807.8 1445.8L809.0 1446.4L810.2 1445.7L811.5 1446.6L813.8 1444.9L815.0 1442.9L816.8 1442.6L817.5 1442.9L818.8 1444.9L821.0 1445.5L822.2 1446.7L823.5 1446.6L824.5 1446.1L825.8 1447.0L827.0 1446.2L829.5 1446.4L830.8 1446.0L833.0 1446.4L834.2 1447.3L835.5 1447.2L836.5 1446.4L837.8 1447.3L839.0 1446.4L841.2 1446.9L842.5 1446.6L843.8 1447.7L846.2 1445.9L847.5 1447.1L848.5 1446.3L849.8 1446.3L851.0 1444.8L852.2 1447.0L854.8 1446.9L857.0 1447.4L858.2 1446.4L859.5 1446.9L860.8 1446.0L861.8 1446.2L863.0 1447.0L865.5 1445.7L866.5 1446.4L869.0 1445.8L870.2 1446.3L873.2 1444.4L874.2 1442.9L875.0 1439.5L876.2 1429.2L878.0 1438.4L879.2 1439.9L882.0 1444.9L884.5 1446.5L887.0 1445.6L888.2 1446.9L889.2 1446.9L891.8 1446.1L893.0 1446.6L894.2 1446.5L895.2 1446.8L896.5 1445.8L897.8 1446.5L900.2 1445.8L901.5 1446.5L903.8 1446.2L905.0 1446.6L906.2 1445.7L907.5 1446.4L909.8 1446.6L911.0 1447.0L912.2 1445.7L913.2 1445.6L914.5 1446.4L915.8 1446.6L917.0 1447.5L919.2 1445.9L920.5 1446.6L923.0 1445.3L924.2 1447.3L925.5 1445.9L926.5 1445.6L927.2 1444.9L928.2 1442.3L930.2 1421.8L931.8 1434.5L932.2 1435.5L933.0 1435.2L933.5 1435.8L935.0 1442.6L935.8 1444.6L936.2 1445.5L937.0 1445.8L939.8 1446.2L941.0 1445.8L942.2 1447.1L944.5 1446.6L945.8 1446.6L947.0 1447.0L949.2 1446.8L950.5 1445.9L953.0 1447.6L954.2 1446.2L956.5 1446.9L957.8 1447.0L959.0 1446.8L960.2 1445.6L961.5 1446.7L962.8 1445.8L963.8 1446.0L965.0 1446.8L966.2 1446.3L967.5 1447.0L968.5 1448.1L969.8 1446.9L971.0 1446.9L972.2 1446.0L975.8 1446.2L977.0 1445.9L979.5 1446.3L982.0 1445.7L983.0 1445.7L984.2 1446.7L985.5 1446.5L986.8 1447.0L987.8 1447.0L989.0 1446.3L990.2 1446.8L991.5 1445.8L992.8 1447.6L996.0 1445.8L997.5 1446.5L998.8 1445.4L1001.0 1446.6L1003.5 1445.1L1004.5 1444.8L1005.8 1442.3L1006.5 1442.1L1008.2 1442.8L1010.5 1445.6L1011.8 1445.4L1013.0 1447.2L1014.2 1446.0L1015.5 1447.3L1016.5 1445.9L1017.8 1446.7L1019.0 1445.8L1020.0 1445.7L1022.5 1446.8L1023.8 1445.8L1025.0 1447.1L1026.2 1446.0L1027.5 1446.5L1029.8 1446.8L1031.0 1445.5L1032.2 1447.3L1037.0 1445.5L1038.2 1445.8L1039.5 1446.7L1042.0 1445.9L1043.0 1446.2L1044.2 1447.3L1045.5 1446.3L1046.5 1446.2L1047.8 1447.2L1052.8 1445.7L1058.5 1446.8L1061.0 1446.6L1063.2 1445.4L1064.5 1446.1L1065.8 1446.0L1068.0 1446.3" fill="none" stroke="#000" stroke-width="9.6" stroke-linejoin="round" stroke-linecap="round"/>
<text x="230.60" y="1241.90" font-family="'Liberation Sans', Arial, sans-serif" font-size="40.00" font-weight="bold" fill="#000" text-anchor="middle" transform="rotate(-90 230.60 1241.90)">(002)</text>
<text x="349.50" y="1362.80" font-family="'Liberation Sans', Arial, sans-serif" font-size="40.00" font-weight="bold" fill="#000" text-anchor="middle" transform="rotate(-90 349.50 1362.80)">(004)</text>
<text x="558.50" y="1341.70" font-family="'Liberation Sans', Arial, sans-serif" font-size="40.00" font-weight="bold" fill="#000" text-anchor="middle" transform="rotate(-90 558.50 1341.70)" class="one">(101)</text>
<text x="604.30" y="1366.00" font-family="'Liberation Sans', Arial, sans-serif" font-size="40.00" font-weight="bold" fill="#000" text-anchor="middle" transform="rotate(-90 604.30 1366.00)" class="one">(103)</text>
<text x="638.00" y="1237.70" font-family="'Liberation Sans', Arial, sans-serif" font-size="40.00" font-weight="bold" fill="#000" text-anchor="middle" transform="rotate(-90 638.00 1237.70)" class="one">(104)</text>
<text x="675.70" y="1338.90" font-family="'Liberation Sans', Arial, sans-serif" font-size="40.00" font-weight="bold" fill="#000" text-anchor="middle" transform="rotate(-90 675.70 1338.90)" class="one">(105)</text>
<text x="772.00" y="1371.20" font-family="'Liberation Sans', Arial, sans-serif" font-size="40.00" font-weight="bold" fill="#000" text-anchor="middle" transform="rotate(-90 772.00 1371.20)" class="one">(107)</text>
<text x="886.70" y="1367.00" font-family="'Liberation Sans', Arial, sans-serif" font-size="40.00" font-weight="bold" fill="#000" text-anchor="middle" transform="rotate(-90 886.70 1367.00)" class="one">(109)</text>
<text x="941.70" y="1357.10" font-family="'Liberation Sans', Arial, sans-serif" font-size="40.00" font-weight="bold" fill="#000" text-anchor="middle" transform="rotate(-90 941.70 1357.10)" class="one">(110)</text>
<rect x="409.00" y="42.00" width="632.60" height="67.00" fill="#fff" stroke="#000" stroke-width="1.4"/>
<rect x="437.00" y="65.75" width="99.00" height="10.50" fill="#FF00FF"/>
<text class="one" x="548.5" y="86.5" font-family="'Liberation Sans', Arial, sans-serif" font-weight="bold" fill="#FF00FF"><tspan font-size="43">TiO</tspan><tspan font-size="21.5" dy="16.5">2</tspan><tspan font-size="42" dy="-16.5"> JCPDS No. 21-1272</tspan></text>
<rect x="683.70" y="327.00" width="368.60" height="69.30" fill="#fff" stroke="#000" stroke-width="1.4"/>
<rect x="701.70" y="353.00" width="98.60" height="10.00" fill="#FF0000"/>
<text x="811.50" y="372.70" font-family="'Liberation Sans', Arial, sans-serif" font-weight="bold" fill="#FF0000"><tspan font-size="43.0" dy="0.00">ZnO/Ti</tspan><tspan font-size="23.0" dy="16.30">3</tspan><tspan font-size="43.0" dy="-16.30">C</tspan><tspan font-size="23.0" dy="16.30">2</tspan><tspan font-size="43.0" dy="-16.30">T</tspan><tspan font-size="23.0" dy="16.30">x</tspan></text>
<rect x="840.60" y="616.60" width="217.80" height="53.80" fill="#fff" stroke="#000" stroke-width="1.4"/>
<rect x="855.00" y="640.55" width="98.90" height="9.50" fill="#808000"/>
<text x="965.50" y="660.00" font-family="'Liberation Sans', Arial, sans-serif" font-size="43.00" font-weight="bold" fill="#808000" text-anchor="start">ZnO</text>
<rect x="784.80" y="901.50" width="272.20" height="67.80" fill="#fff" stroke="#000" stroke-width="1.4"/>
<rect x="801.20" y="926.30" width="99.40" height="10.00" fill="#0000FF"/>
<text x="913.20" y="945.70" font-family="'Liberation Sans', Arial, sans-serif" font-weight="bold" fill="#0000FF"><tspan font-size="43.0" dy="0.00">Ti</tspan><tspan font-size="23.0" dy="16.50">3</tspan><tspan font-size="43.0" dy="-16.50">C</tspan><tspan font-size="23.0" dy="16.50">2</tspan><tspan font-size="43.0" dy="-16.50">T</tspan><tspan font-size="23.0" dy="16.50">x</tspan></text>
<rect x="782.10" y="1186.50" width="272.20" height="65.10" fill="#fff" stroke="#000" stroke-width="1.4"/>
<rect x="798.10" y="1208.30" width="99.20" height="10.40" fill="#000"/>
<text x="910.00" y="1228.50" font-family="'Liberation Sans', Arial, sans-serif" font-weight="bold" fill="#000"><tspan font-size="43.0" dy="0.00">Ti</tspan><tspan font-size="23.0" dy="16.00">3</tspan><tspan font-size="43.0" dy="-16.00">AlC</tspan><tspan font-size="23.0" dy="16.00">2</tspan></text>
<rect x="140.00" y="324.75" width="928.00" height="3.50" fill="#000"/>
<rect x="205.70" y="309.00" width="3.60" height="17.50" fill="#000"/>
<rect x="277.70" y="317.70" width="3.60" height="8.80" fill="#000"/>
<rect x="349.70" y="309.00" width="3.60" height="17.50" fill="#000"/>
<rect x="421.70" y="317.70" width="3.60" height="8.80" fill="#000"/>
<rect x="493.70" y="309.00" width="3.60" height="17.50" fill="#000"/>
<rect x="565.70" y="317.70" width="3.60" height="8.80" fill="#000"/>
<rect x="637.70" y="309.00" width="3.60" height="17.50" fill="#000"/>
<rect x="709.70" y="317.70" width="3.60" height="8.80" fill="#000"/>
<rect x="781.70" y="309.00" width="3.60" height="17.50" fill="#000"/>
<rect x="853.70" y="317.70" width="3.60" height="8.80" fill="#000"/>
<rect x="925.70" y="309.00" width="3.60" height="17.50" fill="#000"/>
<rect x="997.70" y="317.70" width="3.60" height="8.80" fill="#000"/>
<rect x="140.00" y="611.55" width="928.00" height="3.50" fill="#000"/>
<rect x="205.70" y="595.80" width="3.60" height="17.50" fill="#000"/>
<rect x="277.70" y="604.50" width="3.60" height="8.80" fill="#000"/>
<rect x="349.70" y="595.80" width="3.60" height="17.50" fill="#000"/>
<rect x="421.70" y="604.50" width="3.60" height="8.80" fill="#000"/>
<rect x="493.70" y="595.80" width="3.60" height="17.50" fill="#000"/>
<rect x="565.70" y="604.50" width="3.60" height="8.80" fill="#000"/>
<rect x="637.70" y="595.80" width="3.60" height="17.50" fill="#000"/>
<rect x="709.70" y="604.50" width="3.60" height="8.80" fill="#000"/>
<rect x="781.70" y="595.80" width="3.60" height="17.50" fill="#000"/>
<rect x="853.70" y="604.50" width="3.60" height="8.80" fill="#000"/>
<rect x="925.70" y="595.80" width="3.60" height="17.50" fill="#000"/>
<rect x="997.70" y="604.50" width="3.60" height="8.80" fill="#000"/>
<rect x="140.00" y="898.65" width="928.00" height="3.50" fill="#000"/>
<rect x="205.70" y="882.90" width="3.60" height="17.50" fill="#000"/>
<rect x="277.70" y="891.60" width="3.60" height="8.80" fill="#000"/>
<rect x="349.70" y="882.90" width="3.60" height="17.50" fill="#000"/>
<rect x="421.70" y="891.60" width="3.60" height="8.80" fill="#000"/>
<rect x="493.70" y="882.90" width="3.60" height="17.50" fill="#000"/>
<rect x="565.70" y="891.60" width="3.60" height="8.80" fill="#000"/>
<rect x="637.70" y="882.90" width="3.60" height="17.50" fill="#000"/>
<rect x="709.70" y="891.60" width="3.60" height="8.80" fill="#000"/>
<rect x="781.70" y="882.90" width="3.60" height="17.50" fill="#000"/>
<rect x="853.70" y="891.60" width="3.60" height="8.80" fill="#000"/>
<rect x="925.70" y="882.90" width="3.60" height="17.50" fill="#000"/>
<rect x="997.70" y="891.60" width="3.60" height="8.80" fill="#000"/>
<rect x="140.00" y="1184.25" width="928.00" height="3.50" fill="#000"/>
<rect x="205.70" y="1168.50" width="3.60" height="17.50" fill="#000"/>
<rect x="277.70" y="1177.20" width="3.60" height="8.80" fill="#000"/>
<rect x="349.70" y="1168.50" width="3.60" height="17.50" fill="#000"/>
<rect x="421.70" y="1177.20" width="3.60" height="8.80" fill="#000"/>
<rect x="493.70" y="1168.50" width="3.60" height="17.50" fill="#000"/>
<rect x="565.70" y="1177.20" width="3.60" height="8.80" fill="#000"/>
<rect x="637.70" y="1168.50" width="3.60" height="17.50" fill="#000"/>
<rect x="709.70" y="1177.20" width="3.60" height="8.80" fill="#000"/>
<rect x="781.70" y="1168.50" width="3.60" height="17.50" fill="#000"/>
<rect x="853.70" y="1177.20" width="3.60" height="8.80" fill="#000"/>
<rect x="925.70" y="1168.50" width="3.60" height="17.50" fill="#000"/>
<rect x="997.70" y="1177.20" width="3.60" height="8.80" fill="#000"/>
<rect x="203.00" y="1455.10" width="9.00" height="18.20" fill="#000"/>
<rect x="275.00" y="1464.20" width="9.00" height="9.10" fill="#000"/>
<rect x="347.00" y="1455.10" width="9.00" height="18.20" fill="#000"/>
<rect x="419.00" y="1464.20" width="9.00" height="9.10" fill="#000"/>
<rect x="491.00" y="1455.10" width="9.00" height="18.20" fill="#000"/>
<rect x="563.00" y="1464.20" width="9.00" height="9.10" fill="#000"/>
<rect x="635.00" y="1455.10" width="9.00" height="18.20" fill="#000"/>
<rect x="707.00" y="1464.20" width="9.00" height="9.10" fill="#000"/>
<rect x="779.00" y="1455.10" width="9.00" height="18.20" fill="#000"/>
<rect x="851.00" y="1464.20" width="9.00" height="9.10" fill="#000"/>
<rect x="923.00" y="1455.10" width="9.00" height="18.20" fill="#000"/>
<rect x="995.00" y="1464.20" width="9.00" height="9.10" fill="#000"/>
<rect x="136.00" y="35.00" width="936.00" height="9.00" fill="#000"/>
<rect x="131.00" y="40.00" width="9.00" height="1432.60" fill="#000"/>
<rect x="1067.50" y="40.00" width="9.20" height="1432.60" fill="#000"/>
<rect x="136.00" y="1468.90" width="935.80" height="8.80" fill="#000"/>
<text x="207.80" y="1548.80" font-family="'Liberation Serif', 'Times New Roman', serif" font-size="71.80" font-weight="bold" fill="#000" text-anchor="middle">10</text>
<text x="351.80" y="1548.80" font-family="'Liberation Serif', 'Times New Roman', serif" font-size="71.80" font-weight="bold" fill="#000" text-anchor="middle">20</text>
<text x="495.80" y="1548.80" font-family="'Liberation Serif', 'Times New Roman', serif" font-size="71.80" font-weight="bold" fill="#000" text-anchor="middle">30</text>
<text x="639.80" y="1548.80" font-family="'Liberation Serif', 'Times New Roman', serif" font-size="71.80" font-weight="bold" fill="#000" text-anchor="middle">40</text>
<text x="783.80" y="1548.80" font-family="'Liberation Serif', 'Times New Roman', serif" font-size="71.80" font-weight="bold" fill="#000" text-anchor="middle">50</text>
<text x="927.80" y="1548.80" font-family="'Liberation Serif', 'Times New Roman', serif" font-size="71.80" font-weight="bold" fill="#000" text-anchor="middle">60</text>
<text x="1071.80" y="1548.80" font-family="'Liberation Serif', 'Times New Roman', serif" font-size="71.80" font-weight="bold" fill="#000" text-anchor="middle">70</text>
<text x="643.50" y="1620.50" font-family="'Liberation Serif', 'Times New Roman', serif" font-size="94.50" font-weight="bold" fill="#000" text-anchor="middle">2&#952; (Degree)</text>
<text x="92.40" y="706.50" font-family="'Liberation Serif', 'Times New Roman', serif" font-size="97.20" font-weight="bold" fill="#000" text-anchor="middle" transform="rotate(-90 92.40 706.50)">Intensity (a.u.)</text>
<!--masks--><g fill="#fff" transform="rotate(-90 439.10 174.00)"><rect x="410.03" y="169.03" width="7.38" height="5.97"/><rect x="422.45" y="169.03" width="6.98" height="5.97"/></g><g fill="#fff" transform="rotate(-90 439.10 174.00)"><rect x="450.08" y="169.03" width="7.38" height="5.97"/><rect x="462.50" y="169.03" width="6.98" height="5.97"/></g><g fill="#fff" transform="rotate(-90 620.90 227.80)"><rect x="589.85" y="222.42" width="8.07" height="6.38"/><rect x="603.50" y="222.42" width="7.61" height="6.38"/></g><g fill="#fff" transform="rotate(-90 620.90 227.80)"><rect x="609.89" y="222.42" width="8.07" height="6.38"/><rect x="623.55" y="222.42" width="7.61" height="6.38"/></g><g fill="#fff" transform="rotate(-90 854.70 227.50)"><rect x="822.54" y="222.12" width="8.07" height="6.38"/><rect x="836.19" y="222.12" width="7.61" height="6.38"/></g><g fill="#fff" transform="rotate(-90 529.70 767.90)"><rect x="500.63" y="762.93" width="7.38" height="5.97"/><rect x="513.05" y="762.93" width="6.98" height="5.97"/></g><g fill="#fff" transform="rotate(-90 595.10 674.40)"><rect x="566.03" y="669.43" width="7.38" height="5.97"/><rect x="578.45" y="669.43" width="6.98" height="5.97"/></g><g fill="#fff" transform="rotate(-90 595.10 674.40)"><rect x="606.08" y="669.43" width="7.38" height="5.97"/><rect x="618.50" y="669.43" width="6.98" height="5.97"/></g><g fill="#fff" transform="rotate(-90 757.20 791.40)"><rect x="728.13" y="786.43" width="7.38" height="5.97"/><rect x="740.55" y="786.43" width="6.98" height="5.97"/></g><g fill="#fff" transform="rotate(-90 885.80 774.50)"><rect x="857.72" y="769.53" width="7.38" height="5.97"/><rect x="870.14" y="769.53" width="6.98" height="5.97"/></g><g fill="#fff" transform="rotate(-90 885.80 774.50)"><rect x="875.75" y="769.53" width="7.38" height="5.97"/><rect x="888.18" y="769.53" width="6.98" height="5.97"/></g><g fill="#fff" transform="rotate(-90 984.20 786.80)"><rect x="955.13" y="781.83" width="7.38" height="5.97"/><rect x="967.55" y="781.83" width="6.98" height="5.97"/></g><g fill="#fff" transform="rotate(-90 558.50 1341.70)"><rect x="526.34" y="1336.32" width="8.07" height="6.38"/><rect x="539.99" y="1336.32" width="7.61" height="6.38"/></g><g fill="#fff" transform="rotate(-90 558.50 1341.70)"><rect x="570.84" y="1336.32" width="8.07" height="6.38"/><rect x="584.49" y="1336.32" width="7.61" height="6.38"/></g><g fill="#fff" transform="rotate(-90 604.30 1366.00)"><rect x="572.14" y="1360.62" width="8.07" height="6.38"/><rect x="585.79" y="1360.62" width="7.61" height="6.38"/></g><g fill="#fff" transform="rotate(-90 638.00 1237.70)"><rect x="605.84" y="1232.32" width="8.07" height="6.38"/><rect x="619.49" y="1232.32" width="7.61" height="6.38"/></g><g fill="#fff" transform="rotate(-90 675.70 1338.90)"><rect x="643.54" y="1333.52" width="8.07" height="6.38"/><rect x="657.19" y="1333.52" width="7.61" height="6.38"/></g><g fill="#fff" transform="rotate(-90 772.00 1371.20)"><rect x="739.84" y="1365.82" width="8.07" height="6.38"/><rect x="753.49" y="1365.82" width="7.61" height="6.38"/></g><g fill="#fff" transform="rotate(-90 886.70 1367.00)"><rect x="854.54" y="1361.62" width="8.07" height="6.38"/><rect x="868.19" y="1361.62" width="7.61" height="6.38"/></g><g fill="#fff" transform="rotate(-90 941.70 1357.10)"><rect x="910.65" y="1351.72" width="8.07" height="6.38"/><rect x="924.30" y="1351.72" width="7.61" height="6.38"/></g><g fill="#fff" transform="rotate(-90 941.70 1357.10)"><rect x="930.69" y="1351.72" width="8.07" height="6.38"/><rect x="944.35" y="1351.72" width="7.61" height="6.38"/></g><g fill="#fff"><rect x="898.77" y="80.91" width="8.41" height="6.59"/><rect x="913.04" y="80.91" width="7.92" height="6.59"/></g><g fill="#fff"><rect x="936.11" y="80.91" width="8.41" height="6.59"/><rect x="950.38" y="80.91" width="7.92" height="6.59"/></g><!--/masks-->
</svg>
</body></html>
